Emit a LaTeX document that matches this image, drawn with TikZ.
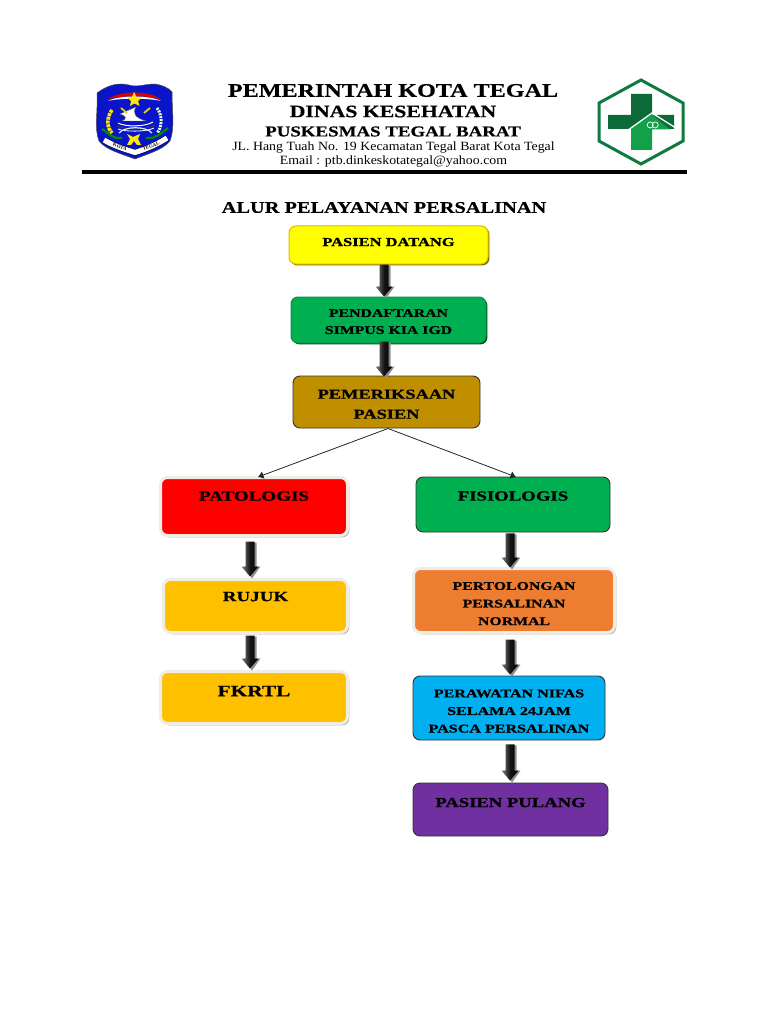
\documentclass[tikz,border=0pt]{standalone}
\usepackage{fontspec}
\setmainfont{Liberation Serif}
\newfontfamily\bk[FakeStretch=1.25,FakeBold=0.5]{Liberation Serif}
\newfontfamily\bkw[FakeStretch=1.35,FakeBold=0.9]{Liberation Serif}
\newfontfamily\sbt[FakeStretch=1.1]{Liberation Serif}
\usetikzlibrary{calc,shadows,arrows.meta}
\definecolor{shieldblue}{HTML}{0A14C8}
\definecolor{hexgreen}{HTML}{0E7A40}
\definecolor{crossdark}{HTML}{0B6A38}
\definecolor{crosslight}{HTML}{12A04A}
\definecolor{framec}{HTML}{EFEDE6}
\definecolor{frameshadow}{HTML}{B8B4A6}
\definecolor{yellowc}{RGB}{255,255,0}
\definecolor{yellowedge}{RGB}{225,185,0}
\definecolor{yellowshadow}{RGB}{120,105,0}
\definecolor{amberc}{RGB}{255,192,0}
\definecolor{greenc}{RGB}{0,176,80}
\definecolor{brownc}{RGB}{191,143,0}
\definecolor{orangec}{RGB}{237,125,49}
\definecolor{bluec}{RGB}{0,176,240}
\definecolor{purplec}{RGB}{112,48,160}
\tikzset{
  boxbase/.style={rectangle,rounded corners=7pt,inner sep=0pt,align=center,text=black},
  bevel/.style={boxbase,draw=framec,line width=3pt,general shadow={shadow xshift=1.8pt,shadow yshift=-1.8pt,fill=frameshadow}},
  dark/.style={boxbase,draw=black!80,line width=0.9pt},
  hdr/.style={inner sep=0pt},
  sub/.style={inner sep=0pt,font=\sbt\fontsize{12.6}{14}\selectfont},
  thinarrow/.style={draw=black!85,line width=0.8pt,-{Latex[length=5.5pt,width=8pt]}},
}
\newcommand{\flowarrow}[5]{%
  \coordinate (fs) at ($(#1.south -| #3,0)+(0,#4)$);
  \coordinate (fe) at ($(#2.north -| #3,0)+(0,-#5)$);
  \path[fill=black!45] ($(fs)+(-2.5,1)$) -- ($(fe)+(-2.5,-10)$) -- ($(fe)+(-6.5,-10)$) -- ($(fe)+(2,2)$) -- ($(fe)+(10.5,-10)$) -- ($(fe)+(6.5,-10)$) -- ($(fs)+(6.5,1)$) -- cycle;
  \path[left color=black!50,right color=black,middle color=black!92] ($(fs)+(-4.5,0)$) -- ($(fe)+(-4.5,-10)$) -- ($(fe)+(-8.5,-10)$) -- (fe) -- ($(fe)+(8.5,-10)$) -- ($(fe)+(4.5,-10)$) -- ($(fs)+(4.5,0)$) -- cycle;
}
\begin{document}
\begin{tikzpicture}[x=1pt,y=-1pt]
\useasboundingbox[fill=white] (0,0) rectangle (768,1024);

% header rule
\coordinate (ruleL) at (82,172);
\coordinate (ruleR) at (687,172);
\draw[line width=4.6pt,black] (ruleL) -- (ruleR);

% header text
\node[hdr,font=\bk\bfseries\fontsize{19.3}{22}\selectfont] (h1) at (393,90.5) {PEMERINTAH KOTA TEGAL};
\node[hdr,font=\bk\bfseries\fontsize{17.4}{20}\selectfont] (h2) at (393,111.5) {DINAS KESEHATAN};
\node[hdr,font=\bk\bfseries\fontsize{15.1}{18}\selectfont] (h3) at (393,131.5) {PUSKESMAS TEGAL BARAT};
\node[sub] (h4) at (393.5,147.5) {JL. Hang Tuah No. 19 Kecamatan Tegal Barat Kota Tegal};
\node[sub] (h5) at (393.5,161) {Email : ptb.dinkeskotategal@yahoo.com};
\node[hdr,font=\bk\bfseries\fontsize{16.3}{18}\selectfont] (title) at (384,207.5) {ALUR PELAYANAN PERSALINAN};

% left crest
\path[fill=shieldblue,draw=black!70,line width=.5pt] (97,93) .. controls (105,87) and (113,84) .. (121,84) .. controls (127,84) and (131,86) .. (135,86) .. controls (141,86) and (147,84) .. (155,84) .. controls (162,85) and (169,88) .. (172,92) .. controls (172,112) and (175,128) .. (170,141) .. controls (163,150) and (147,154) .. (135,159) .. controls (122,154) and (106,150) .. (99,141) .. controls (94,128) and (98,112) .. (97,93) -- cycle;
\path[fill=red!85!black] (107,100) .. controls (118,90) and (150,90) .. (162,100) .. controls (150,95) and (118,95) .. (107,100) -- cycle;
\path[fill=white] (108,101) .. controls (118,95) and (150,95) .. (161,101) .. controls (150,98) and (118,98) .. (108,101) -- cycle;
\path[fill=yellow!90!orange] (134,92) -- (136.5,97) -- (142,97.5) -- (138,101) -- (139.5,106) -- (134.5,103.5) -- (130,106) -- (131,101) -- (127,97.5) -- (132,97) -- cycle;
\path[fill=white,draw=black!60,line width=.3pt] (120,114) -- (136,107) .. controls (132,113) and (135,118) .. (146,121) -- (122,121) .. controls (127,119) and (127,116) .. (120,114) -- cycle;
\path[draw=yellow!85!black,line width=1.8pt] (121,108) -- (127,113) (150,108) -- (144,113);
\path[draw=white,line width=1pt] (118,123) .. controls (125,127) and (145,127) .. (153,122);
\path[draw=black!75,line width=.9pt] (117,126) .. controls (125,130) and (146,130) .. (155,125);
\path[draw=white,line width=.8pt] (118,129) .. controls (125,132) and (146,132) .. (154,128);
\path[draw=yellow!85!orange,line width=3.6pt,dash pattern=on 3pt off .8pt] (112,110) .. controls (106,118) and (107,128) .. (112,133);
\path[draw=white!85!green,line width=3pt,dash pattern=on 2pt off 1pt] (157,108) .. controls (163,116) and (162,128) .. (157,133);
\path[draw=green!55!black,line width=2.2pt] (102,129) .. controls (110,134) and (112,139) .. (122,138) (168,128) .. controls (160,134) and (156,139) .. (146,138);
\path[draw=white!80!cyan,line width=1.2pt] (119,133) .. controls (125,126) and (146,126) .. (152,133);
\path[fill=yellow!90!orange] (127,134) -- (133,137) -- (140,134) -- (138,139) -- (141,145) -- (137,145) -- (134,141) -- (131,145) -- (127,145) -- (130,139) -- cycle;
\path[draw=black,line width=6.2pt] (104,140) .. controls (114,146) and (124,149) .. (135,152.5) .. controls (146,149) and (156,145) .. (167,138);
\path[draw=white,line width=5.2pt] (104,140) .. controls (114,146) and (124,149) .. (135,152.5) .. controls (146,149) and (156,145) .. (167,138);
\node[inner sep=0pt,rotate=-21,font=\bfseries\fontsize{5}{5}\selectfont] (crest1) at (120,146.8) {KOTA};
\node[inner sep=0pt,rotate=20,font=\bfseries\fontsize{5}{5}\selectfont] (crest2) at (151,146.3) {TEGAL};

% right emblem
\path[fill=white,draw=hexgreen,line width=3pt,line join=miter] (641,80) -- (683,103) -- (683,141) -- (641,164) -- (599,141) -- (599,103) -- cycle;
\path[fill=crossdark] (631,94) -- (652,94) -- (652,115) -- (674,115) -- (674,129) -- (608,129) -- (608,115) -- (631,115) -- cycle;
\path[fill=crosslight] (631,128) -- (652,114.5) -- (670,129.5) -- (652,129.5) -- (652,150) -- (631,150) -- cycle;
\path[draw=white,line width=1.3pt] (626,131.5) -- (652,113) -- (675,127.5);
\path[draw=white,line width=.7pt] (650.2,125) circle[radius=3] (655.2,125) circle[radius=3];

% boxes
\node[boxbase,fill=yellowc,draw=yellowedge,line width=1pt,general shadow={shadow xshift=1.4pt,shadow yshift=-1.4pt,fill=yellowshadow},minimum width=199pt,minimum height=38pt,font=\bkw\bfseries\fontsize{12.2}{14}\selectfont,text depth=6pt] (n1) at (388.5,245) {PASIEN DATANG};
\node[boxbase,fill=greenc,draw=greenc!85!black,line width=1pt,general shadow={shadow xshift=1.4pt,shadow yshift=-1.4pt,fill=greenc!40!black},minimum width=195pt,minimum height=46pt,font=\bkw\bfseries\fontsize{11.7}{17}\selectfont] (n2) at (388.5,320) {\rule{0pt}{11pt}PENDAFTARAN\\SIMPUS KIA IGD};
\node[dark,fill=brownc,minimum width=187pt,minimum height=52pt,font=\bkw\bfseries\fontsize{13.6}{20}\selectfont] (n3) at (386.5,402) {\rule{0pt}{13.5pt}PEMERIKSAAN\\PASIEN};

\node[bevel,fill=red,minimum width=187pt,minimum height=58pt,font=\bkw\bfseries\fontsize{14.1}{16}\selectfont,text depth=21pt] (n4) at (254,506.5) {PATOLOGIS};
\node[bevel,fill=amberc,minimum width=184pt,minimum height=53pt,font=\bkw\bfseries\fontsize{14.1}{16}\selectfont,text depth=19pt] (n5) at (255.5,606) {RUJUK};
\node[bevel,fill=amberc,minimum width=187pt,minimum height=52pt,font=\bkw\bfseries\fontsize{15.8}{16}\selectfont,text depth=13pt] (n6) at (254,697.5) {FKRTL};

\node[dark,fill=greenc,minimum width=194pt,minimum height=55pt,font=\bkw\bfseries\fontsize{13.9}{16}\selectfont,text depth=17pt] (n7) at (513,504.5) {FISIOLOGIS};
\node[bevel,fill=orangec,minimum width=201pt,minimum height=64pt,font=\bkw\bfseries\fontsize{11.7}{17.6}\selectfont] (n8) at (514,600.5) {\rule{0pt}{14pt}PERTOLONGAN\\PERSALINAN\\NORMAL};
\node[dark,fill=bluec,minimum width=192pt,minimum height=64pt,font=\bkw\bfseries\fontsize{11.9}{17.6}\selectfont] (n9) at (509,708) {\rule{0pt}{14pt}PERAWATAN NIFAS\\SELAMA 24JAM\\PASCA PERSALINAN};
\node[dark,fill=purplec,minimum width=195pt,minimum height=53pt,font=\bkw\bfseries\fontsize{13.8}{16}\selectfont,text depth=14pt] (n10) at (510.5,809.5) {PASIEN PULANG};

% connectors
\flowarrow{n1}{n2}{384}{0}{0}
\flowarrow{n2}{n3}{384}{-2}{-1}
\flowarrow{n4}{n5}{250}{4.5}{1.5}
\flowarrow{n5}{n6}{250}{1.5}{1.5}
\flowarrow{n7}{n8}{510}{1}{-0.5}
\flowarrow{n8}{n9}{510}{5.5}{1}
\flowarrow{n9}{n10}{510}{4}{2}

\coordinate (fork) at (388,428.5);
\coordinate (toL) at (258,477);
\coordinate (toR) at (516,477);
\draw[thinarrow] (fork) -- (toL);
\draw[thinarrow] (fork) -- (toR);
\end{tikzpicture}
\end{document}
